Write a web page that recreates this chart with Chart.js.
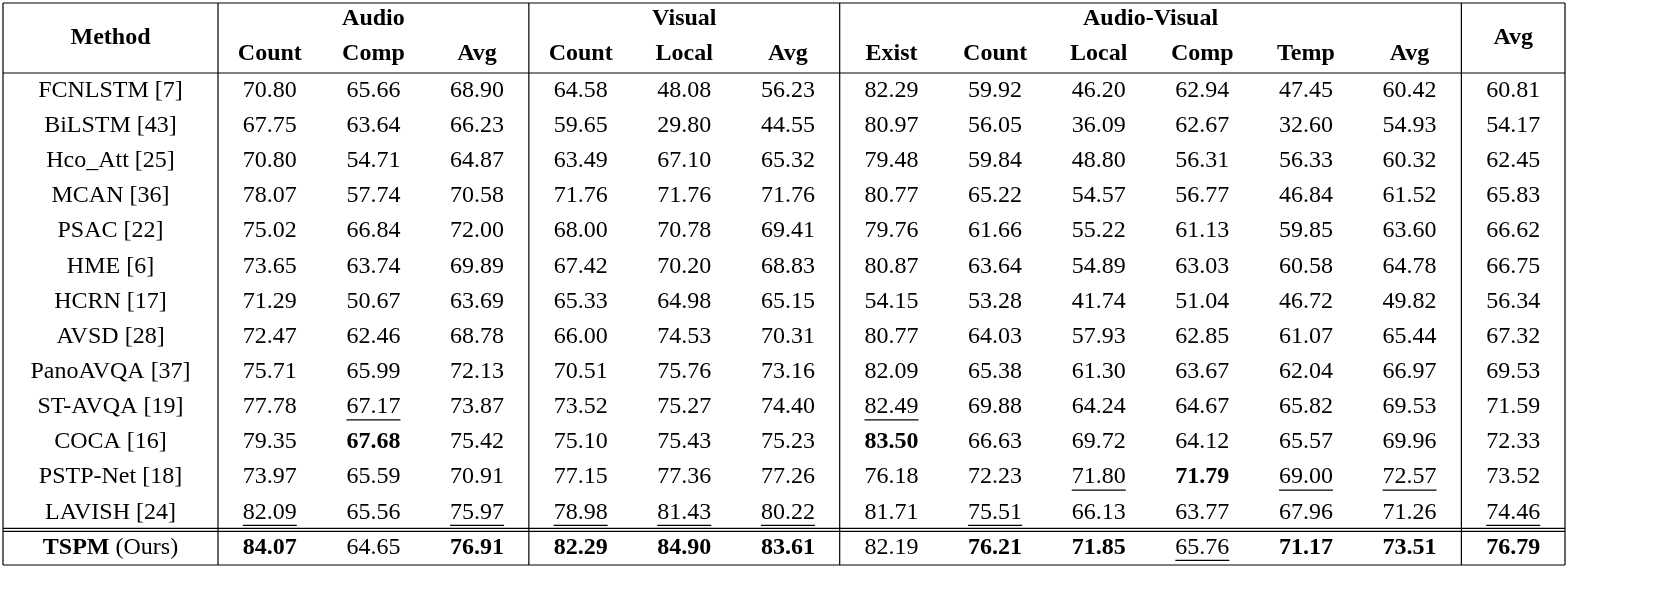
<!DOCTYPE html>
<html>
<head>
<meta charset="utf-8">
<script src="https://cdn.jsdelivr.net/npm/chart.js@4"></script>
<style>
  html, body { margin: 0; padding: 0; background: #fff; overflow: hidden; }
  canvas { display: block; width: 1668px; height: 606px; }
</style>
</head>
<body>
<canvas id="table" width="1668" height="606"></canvas>
<script>
// Table data
const methods = ['FCNLSTM [7]', 'BiLSTM [43]', 'Hco_Att [25]', 'MCAN [36]', 'PSAC [22]', 'HME [6]',
    'HCRN [17]', 'AVSD [28]', 'PanoAVQA [37]', 'ST-AVQA [19]', 'COCA [16]', 'PSTP-Net [18]',
    'LAVISH [24]', 'TSPM (Ours)'];
const columns = ['Count', 'Comp', 'Avg', 'Count', 'Local', 'Avg', 'Exist', 'Count', 'Local', 'Comp', 'Temp', 'Avg', 'Avg'];
const groups = [['Audio', 0, 2], ['Visual', 3, 5], ['Audio-Visual', 6, 11]];

const audioCount = [70.80, 67.75, 70.80, 78.07, 75.02, 73.65, 71.29, 72.47, 75.71, 77.78, 79.35, 73.97, 82.09, 84.07];
const audioComp  = [65.66, 63.64, 54.71, 57.74, 66.84, 63.74, 50.67, 62.46, 65.99, 67.17, 67.68, 65.59, 65.56, 64.65];
const audioAvg   = [68.90, 66.23, 64.87, 70.58, 72.00, 69.89, 63.69, 68.78, 72.13, 73.87, 75.42, 70.91, 75.97, 76.91];
const visCount   = [64.58, 59.65, 63.49, 71.76, 68.00, 67.42, 65.33, 66.00, 70.51, 73.52, 75.10, 77.15, 78.98, 82.29];
const visLocal   = [48.08, 29.80, 67.10, 71.76, 70.78, 70.20, 64.98, 74.53, 75.76, 75.27, 75.43, 77.36, 81.43, 84.90];
const visAvg     = [56.23, 44.55, 65.32, 71.76, 69.41, 68.83, 65.15, 70.31, 73.16, 74.40, 75.23, 77.26, 80.22, 83.61];
const avExist    = [82.29, 80.97, 79.48, 80.77, 79.76, 80.87, 54.15, 80.77, 82.09, 82.49, 83.50, 76.18, 81.71, 82.19];
const avCount    = [59.92, 56.05, 59.84, 65.22, 61.66, 63.64, 53.28, 64.03, 65.38, 69.88, 66.63, 72.23, 75.51, 76.21];
const avLocal    = [46.20, 36.09, 48.80, 54.57, 55.22, 54.89, 41.74, 57.93, 61.30, 64.24, 69.72, 71.80, 66.13, 71.85];
const avComp     = [62.94, 62.67, 56.31, 56.77, 61.13, 63.03, 51.04, 62.85, 63.67, 64.67, 64.12, 71.79, 63.77, 65.76];
const avTemp     = [47.45, 32.60, 56.33, 46.84, 59.85, 60.58, 46.72, 61.07, 62.04, 65.82, 65.57, 69.00, 67.96, 71.17];
const avAvg      = [60.42, 54.93, 60.32, 61.52, 63.60, 64.78, 49.82, 65.44, 66.97, 69.53, 69.96, 72.57, 71.26, 73.51];
const totalAvg   = [60.81, 54.17, 62.45, 65.83, 66.62, 66.75, 56.34, 67.32, 69.53, 71.59, 72.33, 73.52, 74.46, 76.79];

const series = [audioCount, audioComp, audioAvg, visCount, visLocal, visAvg,
    avExist, avCount, avLocal, avComp, avTemp, avAvg, totalAvg];

// row index of best (bold) and second best (underlined) per column
const bestRow   = [13, 10, 13, 13, 13, 13, 10, 13, 13, 11, 13, 13, 13];
const secondRow = [12,  9, 12, 12, 12, 12,  9, 12, 11, 13, 11, 11, 12];

const colKeys = columns.map((c, i) => 'c' + i);
const points = [];
series.forEach((vals, ci) => vals.forEach((v, ri) => points.push({ x: colKeys[ci], y: methods[ri], v: v, ci: ci, ri: ri })));

const SERIF = '"Liberation Serif", "DejaVu Serif", serif';

const tablePlugin = {
    id: 'tableText',
    afterDraw(chart) {
        const { ctx, chartArea: a, scales: { x, y } } = chart;
        const colW = (a.right - a.left) / columns.length;
        const rowH = (a.bottom - a.top) / methods.length;
        const left = 3;
        const top = 3;
        ctx.save();
        ctx.fillStyle = '#000';
        ctx.strokeStyle = '#000';
        ctx.textAlign = 'center';
        ctx.textBaseline = 'middle';

        // cells
        points.forEach(p => {
            const px = x.getPixelForValue(colKeys.indexOf(p.x));
            const py = y.getPixelForValue(p.ri);
            const bold = bestRow[p.ci] === p.ri;
            ctx.font = (bold ? 'bold ' : '') + '24px ' + SERIF;
            const txt = p.v.toFixed(2);
            ctx.fillText(txt, px, py);
            if (secondRow[p.ci] === p.ri) {
                const w = ctx.measureText(txt).width;
                ctx.lineWidth = 1.2;
                ctx.beginPath();
                ctx.moveTo(px - w / 2, py + 13);
                ctx.lineTo(px + w / 2, py + 13);
                ctx.stroke();
            }
        });

        // method names
        methods.forEach((m, ri) => {
            const py = y.getPixelForValue(ri);
            const cx = (left + a.left) / 2;
            if (ri === methods.length - 1) {
                ctx.font = 'bold 24px ' + SERIF;
                const w1 = ctx.measureText('TSPM ').width;
                ctx.font = '24px ' + SERIF;
                const w2 = ctx.measureText('(Ours)').width;
                const sx = cx - (w1 + w2) / 2;
                ctx.textAlign = 'left';
                ctx.font = 'bold 24px ' + SERIF;
                ctx.fillText('TSPM ', sx, py);
                ctx.font = '24px ' + SERIF;
                ctx.fillText('(Ours)', sx + w1, py);
                ctx.textAlign = 'center';
            } else {
                ctx.font = '24px ' + SERIF;
                ctx.fillText(m, cx, py);
            }
        });

        // headers
        ctx.font = 'bold 24px ' + SERIF;
        ctx.fillText('Method', (left + a.left) / 2, (top + a.top) / 2);
        columns.forEach((c, ci) => {
            const px = x.getPixelForValue(ci);
            if (ci === columns.length - 1) {
                ctx.fillText(c, px, (top + a.top) / 2);
            } else {
                ctx.fillText(c, px, a.top - 19);
            }
        });
        groups.forEach(([name, s, e]) => {
            const px = (x.getPixelForValue(s) + x.getPixelForValue(e)) / 2;
            ctx.fillText(name, px, top + 16);
        });

        // rules
        ctx.lineWidth = 1.2;
        const hline = yy => { ctx.beginPath(); ctx.moveTo(left, yy); ctx.lineTo(a.right, yy); ctx.stroke(); };
        const vline = xx => { ctx.beginPath(); ctx.moveTo(xx, top); ctx.lineTo(xx, a.bottom); ctx.stroke(); };
        hline(top);
        hline(a.top);
        hline(a.top + rowH * (methods.length - 1) - 1.5);
        hline(a.top + rowH * (methods.length - 1) + 1.5);
        hline(a.bottom);
        vline(left);
        vline(a.left);
        [3, 6, 12].forEach(i => vline(a.left + colW * i));
        vline(a.right);
        ctx.restore();
    }
};

new Chart(document.getElementById('table'), {
    type: 'line',
    data: {
        datasets: [{
            data: points,
            showLine: false,
            pointRadius: 0,
            pointHoverRadius: 0
        }]
    },
    options: {
        responsive: false,
        devicePixelRatio: 1,
        animation: false,
        layout: { padding: { left: 218, top: 73, right: 103, bottom: 41 } },
        plugins: { legend: { display: false }, tooltip: { enabled: false } },
        scales: {
            x: { type: 'category', labels: colKeys, offset: true, display: false },
            y: { type: 'category', labels: methods, offset: true, display: false }
        }
    },
    plugins: [tablePlugin]
});
</script>
</body>
</html>
